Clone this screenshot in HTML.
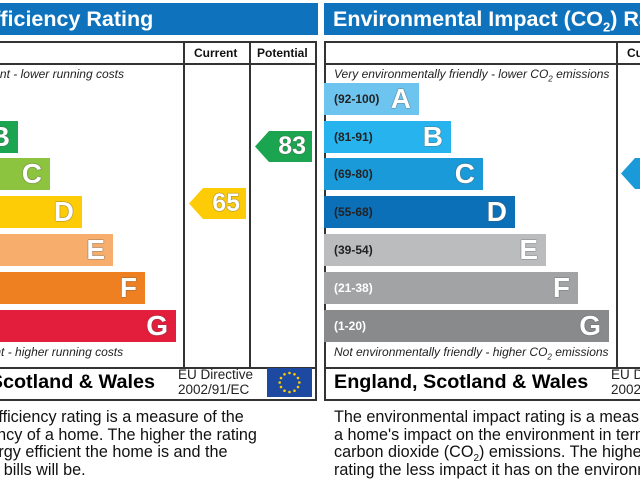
<!DOCTYPE html>
<html style="overflow:hidden"><head><meta charset="utf-8"><style>
*{margin:0;padding:0;box-sizing:border-box}
html,body{width:640px;height:480px;overflow:hidden}
body{background:#fff;position:relative;font-family:"Liberation Sans",Arial,sans-serif}
.p{position:absolute;top:0;width:316px;height:480px;overflow:hidden}
.title{position:absolute;left:0;top:3px;width:760px;height:32px;background:#0f72bd;color:#fff;font-weight:bold;font-size:21.5px;line-height:32px;padding-left:9px;white-space:nowrap}
.box{position:absolute;left:0;top:41px;width:426px;height:360px;border:2px solid #333}
.hl{position:absolute;left:0;height:2px;background:#333}
.vl{position:absolute;top:41px;width:2px;background:#333;height:327px}
.hdr{position:absolute;top:46px;font-size:12px;font-weight:bold;color:#111}
.it{position:absolute;left:10px;font-style:italic;font-size:12px;color:#222;white-space:nowrap}
sub{line-height:0}
.bar{position:absolute;left:0;height:32px;color:#fff}
.bar .r{position:absolute;left:10px;top:9px;font-size:12px;font-weight:bold;color:#222}
.bar .l{position:absolute;right:8px;top:0;font-size:28px;font-weight:bold;line-height:32px;text-shadow:0 0 1px #555,0 0 1px #555}
.arr{position:absolute;height:31px;color:#fff;font-size:25px;font-weight:bold;line-height:31px;text-align:right;padding-right:6px;clip-path:polygon(0 50%,14px 0,100% 0,100% 100%,14px 100%);text-shadow:0 0 1px #555,0 0 1px #555}
.ft{position:absolute;left:10px;top:371px;font-size:19.8px;font-weight:bold;white-space:nowrap}
.eu{position:absolute;left:287px;top:367px;font-size:13.5px;line-height:15px;color:#222;white-space:nowrap}
.flag{position:absolute;left:376px;top:368px;width:45px;height:29px;background:#1d4aa0}
.para{position:absolute;left:10px;top:409px;font-size:16.2px;line-height:17.5px;color:#111;white-space:nowrap}
</style></head><body>

<div class="p" style="left:0;width:318px">
<div style="position:absolute;left:-109px;top:0;width:430px;height:480px">
<div class="title">Energy Efficiency Rating</div>
<div class="box"></div>
<div class="hl" style="top:63px;width:426px"></div>
<div class="hl" style="top:367px;width:426px"></div>
<div class="vl" style="left:292px"></div>
<div class="vl" style="left:358px"></div>
<div class="hdr" style="left:303px">Current</div>
<div class="hdr" style="left:366px">Potential</div>
<div class="it" style="top:67px">Very energy efficient - lower running costs</div>
<div class="bar" style="top:83px;width:95px;background:#0f8a47"><span class="l">A</span></div>
<div class="bar" style="top:121px;width:127px;background:#1ba550"><span class="l">B</span></div>
<div class="bar" style="top:158px;width:159px;background:#8cc43f"><span class="l">C</span></div>
<div class="bar" style="top:196px;width:191px;background:#fecc07"><span class="l">D</span></div>
<div class="bar" style="top:234px;width:222px;background:#f7ad6b"><span class="l">E</span></div>
<div class="bar" style="top:272px;width:254px;background:#ee8022"><span class="l">F</span></div>
<div class="bar" style="top:310px;width:285px;background:#e31d3c"><span class="l">G</span></div>
<div class="it" style="top:345px">Not energy efficient - higher running costs</div>
<div class="arr" style="left:298px;top:188px;width:57px;background:#fecc07">65</div>
<div class="arr" style="left:364px;top:131px;width:57px;background:#1ba550">83</div>
<div class="ft" style="left:auto;right:166px">England, Scotland &amp; Wales</div>
<div class="eu">EU Directive<br>2002/91/EC</div>
<div class="flag"><svg width="45" height="29"><g fill="#fc0"><circle cx="22.5" cy="5" r="1.3"/><circle cx="27.5" cy="6.3" r="1.3"/><circle cx="31" cy="10" r="1.3"/><circle cx="32.3" cy="14.5" r="1.3"/><circle cx="31" cy="19" r="1.3"/><circle cx="27.5" cy="22.7" r="1.3"/><circle cx="22.5" cy="24" r="1.3"/><circle cx="17.5" cy="22.7" r="1.3"/><circle cx="14" cy="19" r="1.3"/><circle cx="12.7" cy="14.5" r="1.3"/><circle cx="14" cy="10" r="1.3"/><circle cx="17.5" cy="6.3" r="1.3"/></g></svg></div>
<div class="para" style="left:12px">The energy efficiency rating is a measure of the<br>overall efficiency of a home. The higher the rating<br>the more energy efficient the home is and the<br>lower the fuel bills will be.</div>
</div>
</div>

<div class="p" style="left:324px">
<div class="title">Environmental Impact (CO<sub style="font-size:13px">2</sub>) Rating</div>
<div class="box"></div>
<div class="hl" style="top:63px;width:426px"></div>
<div class="hl" style="top:367px;width:426px"></div>
<div class="vl" style="left:292px"></div>
<div class="hdr" style="left:303px">Current</div>
<div class="it" style="top:67px">Very environmentally friendly - lower CO<sub style="font-size:8px">2</sub> emissions</div>
<div class="bar" style="top:83px;width:95px;background:#6cc4ef"><span class="r">(92-100)</span><span class="l">A</span></div>
<div class="bar" style="top:121px;width:127px;background:#27b4ee"><span class="r">(81-91)</span><span class="l">B</span></div>
<div class="bar" style="top:158px;width:159px;background:#1a9ad8"><span class="r">(69-80)</span><span class="l">C</span></div>
<div class="bar" style="top:196px;width:191px;background:#0c70b9"><span class="r">(55-68)</span><span class="l">D</span></div>
<div class="bar" style="top:234px;width:222px;background:#bbbcbe"><span class="r">(39-54)</span><span class="l">E</span></div>
<div class="bar" style="top:272px;width:254px;background:#a2a3a5"><span class="r" style="color:#fff">(21-38)</span><span class="l">F</span></div>
<div class="bar" style="top:310px;width:285px;background:#898a8c"><span class="r" style="color:#fff">(1-20)</span><span class="l">G</span></div>
<div class="it" style="top:345px">Not environmentally friendly - higher CO<sub style="font-size:8px">2</sub> emissions</div>
<div class="arr" style="left:297px;top:158px;width:57px;background:#1a9ad8">70</div>
<div class="ft">England, Scotland &amp; Wales</div>
<div class="eu">EU Directive<br>2002/91/EC</div>
<div class="para">The environmental impact rating is a measure of<br>a home's impact on the environment in terms of<br>carbon dioxide (CO<sub style="font-size:10px">2</sub>) emissions. The higher the<br>rating the less impact it has on the environment.</div>
</div>
</body></html>
